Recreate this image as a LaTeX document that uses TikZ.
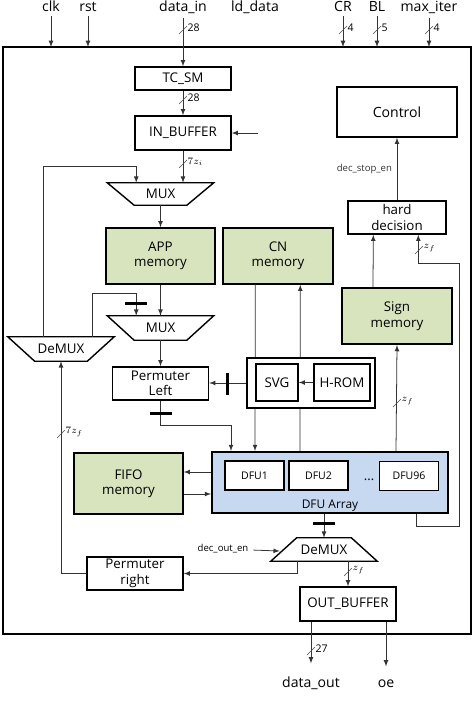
\documentclass[tikz,border=0pt]{standalone}
\usepackage{fontspec}
\setmainfont{Open Sans}
\usetikzlibrary{calc}

\definecolor{memgreen}{RGB}{215,228,189}
\definecolor{arrblue}{RGB}{198,217,241}

\tikzset{
  blk/.style={draw, line width=1pt, fill=white, inner sep=0pt, align=center},
  mem/.style={blk, fill=memgreen},
  muxlbl/.style={inner sep=0pt, minimum width=26.5mm, minimum height=6mm},
  port/.style={anchor=base, font=\fontsize{10}{12}\selectfont},
  lbl/.style={font=\fontsize{6.8}{8}\selectfont},
  dfu/.style={blk, font=\fontsize{7.5}{9}\selectfont, minimum width=14.75mm, minimum height=7.25mm},
  wire/.style={black!80, line width=0.55pt},
  pics/bus/.style={code={
    \draw[black!70, line width=0.4pt] (-4,4) -- (4,-4);
    \node[font=\fontsize{7.5}{9}\selectfont, anchor=west, inner sep=1pt] at (3,-2) {#1};}},
  pics/reg/.style={code={\draw[line width=2.2pt] (-11,0) -- (11,0);}}
}

\begin{document}
\begin{tikzpicture}[x=0.25mm, y=-0.25mm, >=latex, font=\fontsize{9.5}{11}\selectfont]
\useasboundingbox (0,0) rectangle (474,712);

% decoder boundary
\draw[line width=1.8pt] (3,47) rectangle (471,634);
\coordinate (ctop) at (0,47);

% ports
\node[port] (clk) at (51,11) {clk};
\node[port] (rst) at (88,11) {rst};
\node[port] (datain) at (183,11) {data\_in};
\node[port] (lddata) at (255,11) {ld\_data};
\node[port] (cr) at (343,11) {CR};
\node[port] (bl) at (377,11) {BL};
\node[port] (maxiter) at (429,11) {max\_iter};
\foreach \p in {clk,rst,cr,bl,maxiter}
  \draw[wire,->] (\p) -- (\p |- ctop);
\pic at (343,30) {bus=4};
\pic at (377,30) {bus=5};
\pic at (429,30) {bus=4};

% input side
\node[blk, minimum width=24mm, minimum height=5.75mm] (tcsm) at (183,78.5) {TC\_SM};
\node[blk, minimum width=24mm, minimum height=8.5mm] (inbuf) at (183,133) {IN\_BUFFER};
\draw[wire,->] (datain) -- (tcsm);
\pic at (183,30) {bus=28};
\draw[wire,->] (tcsm) -- (inbuf);
\pic at (183,100) {bus=28};
\coordinate (ldin) at (258,133);
\draw[wire,->] (ldin) -- (inbuf);

\node[muxlbl, minimum height=5.5mm] (mux1) at (160.5,194) {MUX};
\draw[line width=1pt] (mux1.north west) -- (mux1.north east) -- ($(mux1.south east)+(-27,0)$) -- ($(mux1.south west)+(27,0)$) -- cycle;
\draw[wire,->] (inbuf) -- (inbuf |- mux1.north);
\pic at (183,164) {bus={$7z_i$}};

\node[mem, minimum width=27.25mm, minimum height=14mm] (app) at (160.5,256) {APP\\memory};
\node[mem, minimum width=27.5mm, minimum height=14mm] (cn) at (278,256) {CN\\memory};
\draw[wire,->] (mux1.south) -- (app.north);

\node[muxlbl] (mux2) at (160.5,328) {MUX};
\draw[line width=1pt] (mux2.north west) -- (mux2.north east) -- ($(mux2.south east)+(-27,0)$) -- ($(mux2.south west)+(27,0)$) -- cycle;
\draw[wire,->] (app.south) -- (mux2.north);

\node[muxlbl] (demux1) at (61,349) {DeMUX};
\draw[line width=1pt] (demux1.north west) -- (demux1.north east) -- ($(demux1.south east)+(-27,0)$) -- ($(demux1.south west)+(27,0)$) -- cycle;
\draw[wire,->] ($(demux1.north west)+(36,0)$) |- ($(mux1.north west)+(29,-16)$) -- ($(mux1.north west)+(29,0)$);
\draw[wire,->] ($(demux1.north west)+(85,0)$) |- ($(mux2.north west)+(29,-22)$) -- ($(mux2.north west)+(29,0)$);
\pic at ($(mux2.north west)+(29,-12)$) {reg};

\node[blk, minimum width=24mm, minimum height=8.25mm] (perml) at (160.5,383.5) {Permuter\\Left};
\draw[wire,->] (mux2.south) -- (perml.north);

% DFU array
\node[blk, fill=arrblue, line width=1.4pt, minimum width=59mm, minimum height=15.25mm] (dfuarr) at (330,482.5) {};
\node[dfu] (dfu1) at (254.5,475.5) {DFU1};
\node[dfu] (dfu2) at (318.5,475.5) {DFU2};
\node[dfu] (dfu96) at (409,476) {DFU96};
\node (dots) at (369,480) {\dots};
\node[anchor=south, inner sep=1.5pt, font=\fontsize{8.5}{10}\selectfont] (dfulbl) at (dfuarr.south) {DFU Array};

\draw[wire,->] ($(cn.south west)+(33,0)$) -- ($(dfuarr.north west)+(44,0)$);
\draw[wire,->] ($(dfuarr.north west)+(89,0)$) -- ($(cn.south west)+(78,0)$);

\node[blk, line width=1.4pt, minimum width=32mm, minimum height=12.5mm] (svgbox) at (311,383) {};
\node[blk, minimum width=10.5mm, minimum height=9.25mm] (svg) at (277,382.5) {SVG};
\node[blk, minimum width=14mm, minimum height=9.25mm] (hrom) at (342,382.5) {H-ROM};
\draw[wire,->] (hrom) -- (svg);

\draw[wire,->] (svgbox.west) -- (svgbox.west -| perml.east);
\pic[rotate=90] at ($(perml.east)+(18,0)$) {reg};
\draw[wire,->] (perml.south) -- ++(0,25) -| ($(dfuarr.north west)+(20,0)$);
\pic at ($(perml.south)+(0,13)$) {reg};

\node[mem, minimum width=27.25mm, minimum height=15.25mm] (fifo) at (128.5,483.5) {FIFO\\memory};
\draw[wire,<-] ($(fifo.east)+(0,-11.5)$) coordinate (f1) -- (f1 -| dfuarr.west);
\draw[wire,->] ($(fifo.east)+(0,10.5)$) coordinate (f2) -- (f2 -| dfuarr.west);

% decision side
\node[blk, minimum width=30mm, minimum height=12.5mm, font=\fontsize{10}{12}\selectfont] (ctrl) at (397,112) {Control};
\node[blk, minimum width=24.5mm, minimum height=8.25mm] (hard) at (397,217.5) {hard\\decision};
\node[mem, line width=1.4pt, minimum width=27.5mm, minimum height=14mm] (sign) at (397,316) {Sign\\memory};
\draw[wire,->] (hard) -- node[lbl, left] {dec\_stop\_en} (ctrl);
\draw[wire,->] ($(sign.north west)+(32,0)$) -- ($(hard.south west)+(26,0)$);
\draw[wire,->] ($(dfuarr.north west)+(185,0)$) -- (sign.south);
\pic at (397,403) {bus={$z_f$}};
\draw[wire,->] ($(dfuarr.south west)+(205,0)$) -- ++(0,12) -- ++(43,0) |- ($(hard.south west)+(71,29)$) -- ($(hard.south west)+(71,0)$);
\pic at (419,250) {bus={$z_f$}};

% output side
\node[muxlbl, minimum height=5.75mm] (demux2) at (324,549.5) {DeMUX};
\draw[line width=1pt] (demux2.south west) -- (demux2.south east) -- ($(demux2.north east)+(-26,0)$) -- ($(demux2.north west)+(26,0)$) -- cycle;
\draw[wire,->] (dfuarr.south -| demux2.north) -- (demux2.north);
\pic at ($(demux2.north)+(0,-14)$) {reg};

\node[lbl] (decout) at (223,549) {dec\_out\_en};
\draw[wire,->] (decout) -- ($(demux2.west)+(9,1.5)$);

\node[blk, minimum width=24mm, minimum height=8.25mm] (permr) at (135,573.5) {Permuter\\right};
\draw[wire,->] ($(demux2.south west)+(27,0)$) |- (permr.east);
\draw[wire,->] (permr.west) -| (demux1.south);
\pic at (61,434) {bus={$7z_f$}};

\node[blk, minimum width=24mm, minimum height=8.5mm] (outbuf) at (348,604) {OUT\_BUFFER};
\draw[wire,->] (demux2.south -| outbuf.north) -- (outbuf.north);
\pic at (348,572) {bus={$z_f$}};

\node[port] (dataout) at (311,687) {data\_out};
\node[port] (oe) at (386,687) {oe};
\draw[wire,->] (outbuf.south -| dataout) -- ([yshift=2mm]dataout.north);
\draw[wire,->] (outbuf.south -| oe) -- ([yshift=2mm]oe.north);
\pic at (311,651) {bus=27};
\end{tikzpicture}
\end{document}
